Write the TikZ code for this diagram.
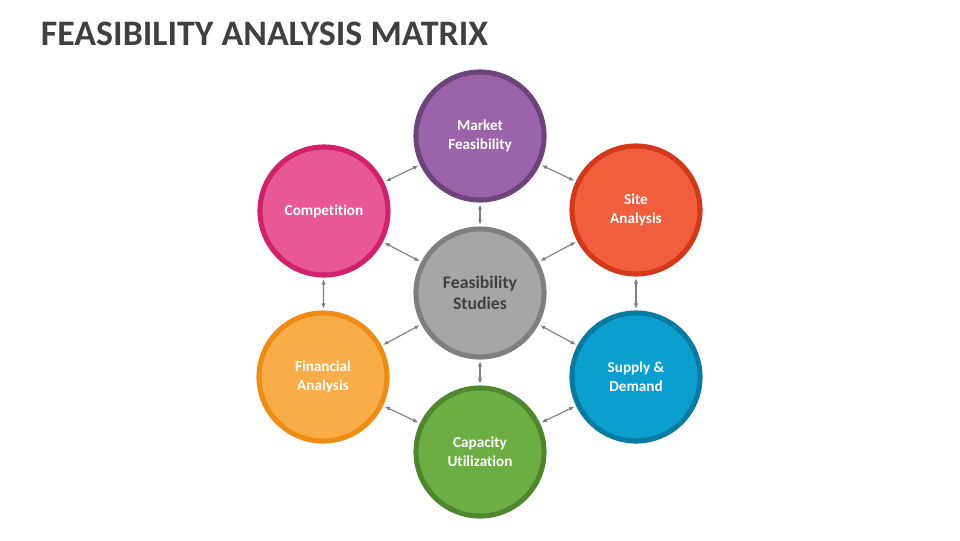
\documentclass[tikz,border=0pt]{standalone}
\usepackage{fontspec}
\setmainfont[Ligatures=NoCommon]{Carlito}
\usepackage{tikz}
\usetikzlibrary{calc, positioning}
\usetikzlibrary{shapes, arrows, arrows.meta}
\definecolor{titlegray}{HTML}{404040}
\definecolor{linkgray}{HTML}{7F7F7F}
\definecolor{mktfill}{HTML}{9B63AA}
\definecolor{mktline}{HTML}{6C4479}
\definecolor{compfill}{HTML}{E85894}
\definecolor{compline}{HTML}{D2206A}
\definecolor{sitefill}{HTML}{F05E3D}
\definecolor{siteline}{HTML}{D3381A}
\definecolor{studfill}{HTML}{A6A6A6}
\definecolor{studline}{HTML}{7F7F7F}
\definecolor{finfill}{HTML}{F8AD48}
\definecolor{finline}{HTML}{EE8C16}
\definecolor{supfill}{HTML}{0A9FCF}
\definecolor{supline}{HTML}{087BA0}
\definecolor{capfill}{HTML}{6CAE43}
\definecolor{capline}{HTML}{4E872C}
\tikzset{
    bubble/.style={circle, line width=3.6pt, minimum size=3.2cm, inner sep=0pt, align=center, text=white, font=\fontsize{10.8}{13.5}\selectfont\bfseries},
    link/.style={{Latex[length=4pt,width=3pt]}-{Latex[length=4pt,width=3pt]}, linkgray, line width=0.8pt, shorten <=1pt, shorten >=1pt},
}

\begin{document}
\begin{tikzpicture}[x=0.025cm, y=-0.025cm]
            \useasboundingbox (0,0) rectangle (960,540);
            % title
            \node[anchor=west, text=titlegray, font=\fontsize{25.5}{30}\selectfont\bfseries] (title) at (36,34) {FEASIBILITY ANALYSIS MATRIX};
            % circles
            \node[bubble, fill=studfill, draw=studline, text=titlegray, font=\fontsize{12.6}{14.5}\selectfont\bfseries] (studies) at (480,293) {Feasibility\\Studies};
            \node[bubble, fill=mktfill, draw=mktline] (market) at (480,136) {Market\\Feasibility};
            \node[bubble, fill=compfill, draw=compline] (comp) at (324,211) {Competition};
            \node[bubble, fill=sitefill, draw=siteline] (site) at (636,210) {Site\\Analysis};
            \node[bubble, fill=finfill, draw=finline] (fin) at (323,377) {Financial\\Analysis};
            \node[bubble, fill=supfill, draw=supline] (supply) at (636,377) {Supply \&\\Demand};
            \node[bubble, fill=capfill, draw=capline] (capacity) at (480,452) {Capacity\\Utilization};
            % links
            \foreach \a/\b in {market/comp, market/site, market/studies, comp/studies, comp/fin, site/studies, site/supply, studies/fin, studies/supply, studies/capacity, fin/capacity, supply/capacity} {
                \draw[link] (\a) -- (\b);
            }
        \end{tikzpicture}
\end{document}
